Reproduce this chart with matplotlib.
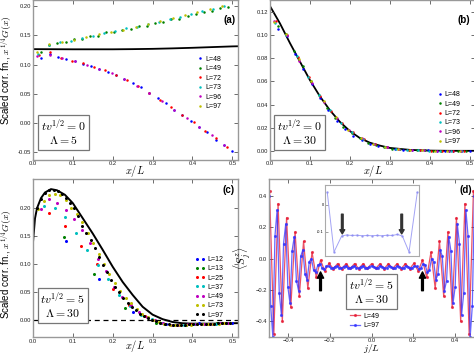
import numpy as np
import matplotlib
matplotlib.use('Agg')
import matplotlib.pyplot as plt

plt.rcParams['font.family'] = ['Liberation Sans', 'DejaVu Sans']
plt.rcParams['mathtext.fontset'] = 'cm'

# ---- panel (a): tv^1/2 = 0, Lambda = 5 ----
a_L = [48, 49, 72, 73, 96, 97]
a_step = [1, 1, 2, 2, 3, 3]
a_y = [
    [0.112, 0.118, 0.113, 0.109, 0.106, 0.101, 0.098, 0.093, 0.088, 0.082, 0.076, 0.068,
     0.061, 0.051, 0.043, 0.034, 0.023, 0.013, 0.004, -0.006, -0.016, -0.029, -0.037, -0.048],
    [0.121, 0.133, 0.137, 0.138, 0.144, 0.144, 0.149, 0.149, 0.155, 0.156, 0.160, 0.161,
     0.166, 0.166, 0.172, 0.173, 0.178, 0.178, 0.184, 0.186, 0.190, 0.192, 0.197, 0.199],
    [0.116, 0.121, 0.112, 0.107, 0.102, 0.096, 0.090, 0.082, 0.073, 0.063, 0.052, 0.040,
     0.027, 0.014, 0.001, -0.013, -0.026, -0.041],
    [0.118, 0.134, 0.138, 0.141, 0.146, 0.149, 0.154, 0.157, 0.162, 0.165, 0.170, 0.173,
     0.178, 0.182, 0.186, 0.191, 0.195, 0.200],
    [0.115, 0.117, 0.111, 0.106, 0.100, 0.093, 0.085, 0.076, 0.064, 0.052, 0.037, 0.023,
     0.008, -0.006, -0.021, -0.037],
    [0.122, 0.136, 0.139, 0.143, 0.147, 0.152, 0.156, 0.160, 0.165, 0.170, 0.175, 0.180,
     0.185, 0.190, 0.195, 0.201],
]
a_line_x = [0.0, 0.1, 0.2, 0.25, 0.3, 0.35, 0.4, 0.45, 0.5, 0.52]
a_line_y = [0.1265, 0.1262, 0.1262, 0.1265, 0.127, 0.1278, 0.1288, 0.130, 0.1312, 0.1315]

# ---- panel (b): tv^1/2 = 0, Lambda = 30 ----
b_L = a_L
b_step = a_step
b_y = [
    [0.105, 0.099, 0.084, 0.071, 0.058, 0.046, 0.035, 0.026, 0.019, 0.013, 0.009, 0.006,
     0.004, 0.003, 0.002, 0.001, 0.001, 0.0005, 0.0003, 0.0002, 0.0001, 0.0, 0.0, 0.0],
    [0.108, 0.101, 0.086, 0.073, 0.060, 0.048, 0.037, 0.028, 0.021, 0.015, 0.011, 0.007,
     0.005, 0.003, 0.002, 0.0013, 0.0008, 0.0005, 0.0003, 0.0002, 0.0001, 0.0, 0.0, 0.0],
    [0.112, 0.100, 0.081, 0.064, 0.047, 0.034, 0.024, 0.016, 0.010, 0.006, 0.003, 0.002,
     0.001, 0.0005, 0.0002, 0.0001, 0.0, 0.0],
    [0.110, 0.100, 0.082, 0.064, 0.048, 0.035, 0.024, 0.016, 0.010, 0.006, 0.0035, 0.002,
     0.001, 0.0005, 0.0002, 0.0001, 0.0, 0.0],
    [0.112, 0.100, 0.078, 0.059, 0.042, 0.028, 0.018, 0.011, 0.006, 0.003, 0.0017, 0.0008,
     0.0004, 0.0002, 0.0, 0.0],
    [0.111, 0.101, 0.079, 0.060, 0.043, 0.029, 0.018, 0.011, 0.006, 0.003, 0.0017, 0.0008,
     0.0004, 0.0002, 0.0, 0.0],
]
b_line_x = [0.0, 0.025, 0.05, 0.075, 0.1, 0.125, 0.15, 0.175, 0.2, 0.225, 0.25, 0.275,
            0.3, 0.35, 0.4, 0.45, 0.52]
b_line_y = [0.125, 0.110, 0.093, 0.077, 0.061, 0.047, 0.035, 0.025, 0.017, 0.011, 0.007,
            0.0045, 0.0025, 0.0008, 0.0002, 0.0, 0.0]

# ---- panel (c): tv^1/2 = 5, Lambda = 30 ----
c_L = [12, 13, 25, 37, 49, 73, 97]
c_y = [
    [0.141, 0.073, 0.014, -0.006, -0.005, -0.004],
    [0.148, 0.083, 0.022, -0.004, -0.008, -0.005],
    [0.191, 0.168, 0.132, 0.100, 0.055, 0.028, 0.007, -0.005, -0.008, -0.007, -0.006, -0.005],
    [0.203, 0.200, 0.184, 0.155, 0.124, 0.098, 0.073, 0.045, 0.026, 0.010, 0.002, -0.005,
     -0.008, -0.008, -0.007, -0.006, -0.006, -0.005],
    [0.197, 0.215, 0.208, 0.196, 0.180, 0.160, 0.138, 0.108, 0.088, 0.060, 0.042, 0.028,
     0.015, 0.006, 0.000, -0.005, -0.008, -0.008, -0.007, -0.007, -0.006, -0.006, -0.005, -0.005],
    [0.198, 0.212, 0.222, 0.224, 0.222, 0.214, 0.200, 0.188, 0.174, 0.155, 0.138, 0.118,
     0.100, 0.082, 0.066, 0.052, 0.040, 0.030, 0.020, 0.012, 0.006, 0.001, -0.003, -0.006,
     -0.008, -0.009, -0.009, -0.008, -0.008, -0.007, -0.007, -0.006, -0.006, -0.006, -0.005, -0.005],
    [0.199, 0.216, 0.226, 0.231, 0.232, 0.229, 0.225, 0.218, 0.209, 0.199, 0.186, 0.168,
     0.155, 0.143, 0.128, 0.112, 0.098, 0.085, 0.072, 0.060, 0.050, 0.040, 0.031, 0.024,
     0.018, 0.012, 0.008, 0.004, 0.001, -0.002, -0.004, -0.006, -0.007, -0.008, -0.008, -0.008,
     -0.008, -0.007, -0.007, -0.007, -0.006, -0.006, -0.006, -0.006, -0.005, -0.005, -0.005, -0.005],
]
c_line_x = [0.0, 0.005, 0.01, 0.02, 0.03, 0.045, 0.06, 0.08, 0.1, 0.125, 0.15, 0.175, 0.2,
            0.225, 0.25, 0.275, 0.3, 0.325, 0.35, 0.375, 0.4, 0.45, 0.52]
c_line_y = [0.139, 0.181, 0.199, 0.217, 0.227, 0.233, 0.231, 0.223, 0.208, 0.181, 0.154,
            0.125, 0.095, 0.068, 0.045, 0.024, 0.010, 0.002, -0.003, -0.0053, -0.006, -0.006, -0.005]

# ---- panel (d): <S^z_j>, sites j = 0..L/2 (profile is mirror symmetric) ----
d_L = [49, 97]
d_half = [
    [-0.033, -0.063, -0.033, -0.064, -0.032, -0.063, -0.033, -0.064, -0.032, -0.065, -0.030,
     -0.080, -0.010, -0.120, 0.040, -0.190, 0.110, -0.240, 0.170, -0.310, 0.260, -0.400,
     0.350, -0.480, 0.430],
    [-0.047, -0.051, -0.063, -0.059, -0.047, -0.051, -0.063, -0.059, -0.047, -0.051, -0.063,
     -0.059, -0.047, -0.051, -0.063, -0.059, -0.047, -0.051, -0.063, -0.059, -0.047, -0.050,
     -0.067, -0.062, -0.034, -0.040, -0.088, -0.075, 0.000, -0.020, -0.135, -0.100, 0.055,
     0.015, -0.205, -0.140, 0.140, 0.050, -0.285, -0.180, 0.220, 0.095, -0.360, -0.220,
     0.310, 0.145, -0.500, -0.300, 0.400],
]
inset_x = [-0.476, -0.404, -0.323, -0.27, -0.215, -0.16, -0.105, -0.05, 0.0, 0.05, 0.105,
           0.16, 0.215, 0.27, 0.323, 0.394, 0.482]
inset_y = [0.046, -0.175, -0.116, -0.112, -0.114, -0.113, -0.115, -0.114, -0.115, -0.114,
           -0.115, -0.113, -0.114, -0.110, -0.116, -0.175, 0.046]

cols = ['#0000ff', '#008000', '#ff0000', '#00bfbf', '#bf00bf', '#bfbf00', '#000000']

W, H = 474.0, 355.0
fig = plt.figure(figsize=(4.74, 3.55), dpi=100)


def box(l, t, r, b):
    return [l / W, 1 - b / H, (r - l) / W, (b - t) / H]


def style(ax):
    for s in ax.spines.values():
        s.set_color('#999999')
        s.set_linewidth(1.0)
    ax.tick_params(direction='in', length=3, width=0.6, color='#555555', labelsize=4.2,
                   top=True, right=True, pad=1.2, labelcolor='#222222')


def tag(ax, s, x, y):
    ax.text(x, y, s, transform=ax.transAxes, fontsize=7, fontweight='bold', ha='right', va='top')


def param_box(ax, s, x, y):
    ax.text(x, y, s, transform=ax.transAxes, fontsize=8.5, ha='center', va='center',
            linespacing=1.1,
            bbox=dict(boxstyle='square,pad=0.25', fc='white', ec='#777777', lw=0.9))


def xlab(ax, s, y, fs=7.5):
    ax.set_xlabel(s, fontsize=fs, va='center')
    ax.xaxis.set_label_coords(0.5, y)


ax_a = fig.add_axes(box(33, -0.5, 237.5, 159.5))
ax_b = fig.add_axes(box(270, -0.5, 475, 159.5))
ax_c = fig.add_axes(box(33, 179, 237.5, 337))
ax_d = fig.add_axes(box(268.5, 179, 474.5, 337))
for ax in (ax_a, ax_b, ax_c, ax_d):
    style(ax)

# (a)
for L, st, y, c in zip(a_L, a_step, a_y, cols):
    x = (1 + st * np.arange(len(y))) / L
    ax_a.plot(x, y, 'o', ms=1.8, mew=0, color=c, label='L=%d' % L)
ax_a.plot(a_line_x, a_line_y, '-', color='k', lw=1.3, zorder=1)
ax_a.set_xlim(0, 0.513)
ax_a.set_ylim(-0.0625, 0.2115)
ax_a.set_yticks([-0.05, 0.0, 0.05, 0.10, 0.15, 0.20])
ax_a.set_yticklabels(['-0.05', '0.00', '0.05', '0.10', '0.15', '0.20'])
ax_a.set_xticks([0, 0.1, 0.2, 0.3, 0.4, 0.5])
ax_a.legend(loc='upper left', bbox_to_anchor=(0.79, 0.665), frameon=False, fontsize=5,
            numpoints=1, handlelength=0.8, handletextpad=0.3, labelspacing=0.35, borderaxespad=0)
xlab(ax_a, '$x/L$', -0.07)
ax_a.set_ylabel('Scaled corr. fn., $x^{1/4}G(x)$', fontsize=7)
ax_a.yaxis.set_label_coords(-0.095, 0.56)
param_box(ax_a, '$tv^{1/2}=0$\n$\\Lambda=5$', 0.148, 0.168)
tag(ax_a, '(a)', 0.99, 0.905)

# (b)
for L, st, y, c in zip(b_L, b_step, b_y, cols):
    x = (1 + st * np.arange(len(y))) / L
    ax_b.plot(x, y, 'o', ms=1.8, mew=0, color=c, label='L=%d' % L)
ax_b.plot(b_line_x, b_line_y, '-', color='k', lw=1.3, zorder=1)
ax_b.set_xlim(0, 0.513)
ax_b.set_ylim(-0.0075, 0.1307)
ax_b.set_yticks([0.0, 0.02, 0.04, 0.06, 0.08, 0.10, 0.12])
ax_b.set_yticklabels(['0.00', '0.02', '0.04', '0.06', '0.08', '0.10', '0.12'])
ax_b.set_xticks([0, 0.1, 0.2, 0.3, 0.4, 0.5])
ax_b.legend(loc='upper left', bbox_to_anchor=(0.80, 0.445), frameon=False, fontsize=5,
            numpoints=1, handlelength=0.8, handletextpad=0.3, labelspacing=0.35, borderaxespad=0)
xlab(ax_b, '$x/L$', -0.07)
param_box(ax_b, '$tv^{1/2}=0$\n$\\Lambda=30$', 0.145, 0.168)
tag(ax_b, '(b)', 0.975, 0.905)

# (c)
ax_c.axhline(0, color='k', ls='--', lw=0.9, dashes=(4, 3))
ax_c.plot(c_line_x, c_line_y, '-', color='k', lw=1.4)
for L, y, c in zip(c_L, c_y, cols):
    x = (1 + np.arange(len(y))) / L
    ax_c.plot(x, y, 'o', ms=2.2, mew=0, color=c, label='L=%d' % L)
ax_c.set_xlim(0, 0.513)
ax_c.set_ylim(-0.0297, 0.251)
ax_c.set_yticks([0.0, 0.05, 0.10, 0.15, 0.20])
ax_c.set_yticklabels(['0.00', '0.05', '0.10', '0.15', '0.20'])
ax_c.set_xticks([0, 0.1, 0.2, 0.3, 0.4, 0.5])
ax_c.legend(loc='upper left', bbox_to_anchor=(0.78, 0.53), frameon=False, fontsize=5,
            numpoints=2, handlelength=1.4, handletextpad=0.3, labelspacing=0.33, borderaxespad=0)
xlab(ax_c, '$x/L$', -0.058)
ax_c.set_ylabel('Scaled corr. fn., $x^{1/4}G(x)$', fontsize=7)
ax_c.yaxis.set_label_coords(-0.095, 0.46)
param_box(ax_c, '$tv^{1/2}=5$\n$\\Lambda=30$', 0.145, 0.2)
tag(ax_c, '(c)', 0.985, 0.965)

# (d)
d_cols = [(0.9, 0.1, 0.2), (0.2, 0.2, 1.0)]
for L, half, c in zip(d_L, d_half, d_cols):
    half = np.array(half)
    y = np.concatenate([half[:0:-1], half])
    n = len(half)
    x = np.arange(-(n - 1), n) / L
    ax_d.plot(x, y, '.-', color=c, lw=0.9, ms=2.5, alpha=0.75, label='L=%d' % L)
ax_d.set_xlim(-0.495, 0.495)
ax_d.set_ylim(-0.5, 0.507)
ax_d.set_yticks([-0.4, -0.2, 0.0, 0.2, 0.4])
ax_d.set_xticks([-0.4, -0.2, 0.0, 0.2, 0.4])
ax_d.tick_params(axis='x', pad=0.6)
for xa in (-0.245, 0.245):
    ax_d.annotate('', xy=(xa, -0.085), xytext=(xa, -0.205),
                  arrowprops=dict(facecolor='black', edgecolor='black', width=1.3,
                                  headwidth=4.5, headlength=4.5, shrink=0))
ax_d.legend(loc='upper left', bbox_to_anchor=(0.38, 0.17), frameon=False, fontsize=5,
            handlelength=1.5, handletextpad=0.5, labelspacing=0.3, borderaxespad=0)
xlab(ax_d, '$j/L$', -0.071, fs=7.0)
ax_d.set_ylabel(r'$\langle S_j^z\rangle$', fontsize=8)
ax_d.yaxis.set_label_coords(-0.075, 0.5)
param_box(ax_d, '$tv^{1/2}=5$\n$\\Lambda=30$', 0.5, 0.29)
tag(ax_d, '(d)', 0.99, 0.965)

# inset of (d)
ax_i = fig.add_axes(box(325, 184.5, 419, 256))
ax_i.plot(inset_x, inset_y, '.-', color=(0.55, 0.55, 0.95), lw=0.7, ms=1.5, alpha=0.8)
ax_i.set_xlim(-0.5, 0.5)
ax_i.set_ylim(-0.19, 0.075)
ax_i.set_xticks([])
ax_i.set_yticks([0.0, -0.1])
ax_i.set_yticklabels(['0', '-0.1'])
for s in ax_i.spines.values():
    s.set_color('#aaaaaa')
    s.set_linewidth(0.8)
ax_i.tick_params(direction='in', length=2, width=0.5, labelsize=2.8, pad=1, color='#777777')
for xa in (-0.316, 0.316):
    ax_i.annotate('', xy=(xa, -0.108), xytext=(xa, -0.035),
                  arrowprops=dict(facecolor='#333333', edgecolor='#333333', width=1.2,
                                  headwidth=3.5, headlength=3, shrink=0))

fig.savefig('out.png', dpi=100)
